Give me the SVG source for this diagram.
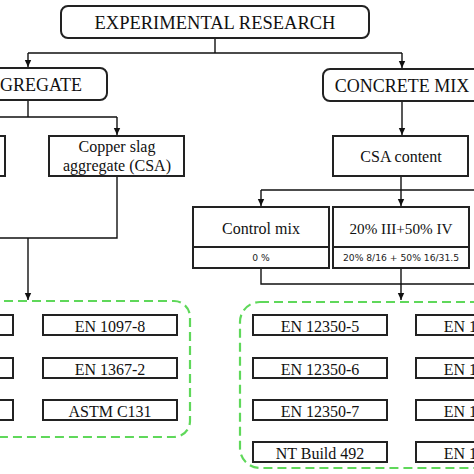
<svg xmlns="http://www.w3.org/2000/svg" width="474" height="474" viewBox="0 0 474 474">
<defs>
<marker id="ah" markerWidth="8" markerHeight="8" refX="7" refY="4" orient="auto" markerUnits="userSpaceOnUse">
<path d="M0,0.8 L7,4 L0,7.2 Z" fill="#111"/>
</marker>
<style>
.box{fill:#fff;stroke:#222;stroke-width:2}
.t{font-family:"Liberation Serif","Times New Roman",serif;fill:#111;text-anchor:middle}
.s{font-family:"DejaVu Sans","Verdana",sans-serif;fill:#222;text-anchor:middle;font-size:9.2px}
.c{fill:none;stroke:#111;stroke-width:1.4}
.grp{fill:none;stroke:#5fd85a;stroke-width:2.2;stroke-dasharray:9,5}
</style>
</defs>
<rect width="474" height="474" fill="#fff"/>

<g id="connectors">
<path class="c" d="M215,38 V53 M28,53 H402"/>
<path class="c" d="M28,53 V67" marker-end="url(#ah)"/>
<path class="c" d="M402,53 V68" marker-end="url(#ah)"/>
<path class="c" d="M28,100 V117 M-10,117 H117"/>
<path class="c" d="M117,117 V135" marker-end="url(#ah)"/>
<path class="c" d="M117,176 V238 H-10"/>
<path class="c" d="M28,238 V300" marker-end="url(#ah)"/>
<path class="c" d="M402,101 V135" stroke="#666" marker-end="url(#ah)"/>
<path class="c" d="M401,176 V190" stroke-width="2.4"/>
<path class="c" d="M261,190 H480"/>
<path class="c" d="M261,190 V206" marker-end="url(#ah)"/>
<path class="c" d="M401,190 V206" stroke-width="2" marker-end="url(#ah)"/>
<path class="c" d="M261,268 V284 H480"/>
<path class="c" d="M401,268 V300" marker-end="url(#ah)"/>
</g>

<g id="n-experimental">
<rect class="box" x="61" y="6" width="308" height="32" rx="7"/>
<text class="t" x="215" y="29" font-size="18.5">EXPERIMENTAL RESEARCH</text>
</g>
<g id="n-aggregate">
<rect class="box" x="-51" y="68" width="158" height="32" rx="7"/>
<text class="t" x="28" y="91" font-size="18">AGGREGATE</text>
</g>
<g id="n-concrete">
<rect class="box" x="323" y="69" width="158" height="32" rx="7"/>
<text class="t" x="402" y="92" font-size="18">CONCRETE MIX</text>
</g>
<g id="n-natural">
<rect class="box" x="-128" y="136" width="133" height="40"/>
</g>
<g id="n-csa">
<rect class="box" x="49" y="136" width="135" height="40"/>
<text class="t" x="117" y="152" font-size="16">Copper slag</text>
<text class="t" x="117" y="171" font-size="16">aggregate (CSA)</text>
</g>
<g id="n-csacontent">
<rect class="box" x="333" y="136" width="135" height="40"/>
<text class="t" x="401" y="162" font-size="16">CSA content</text>
</g>
<g id="n-control">
<rect class="box" x="193" y="207" width="136" height="61"/>
<line x1="193" y1="247" x2="329" y2="247" stroke="#222" stroke-width="2"/>
<text class="t" x="261" y="234" font-size="16">Control mix</text>
<text class="s" x="261" y="261">0 %</text>
</g>
<g id="n-mix2">
<rect class="box" x="333" y="207" width="136" height="61"/>
<line x1="333" y1="247" x2="469" y2="247" stroke="#222" stroke-width="2"/>
<text class="t" x="401" y="234" font-size="15.2">20% III+50% IV</text>
<text class="s" x="401" y="261">20% 8/16 + 50% 16/31.5</text>
</g>

<g id="g-aggregate-tests">
<rect class="grp" x="-180" y="301" width="370" height="136" rx="16"/>
<rect class="box" x="-121" y="315" width="134" height="20"/>
<rect class="box" x="-121" y="358" width="134" height="20"/>
<rect class="box" x="-121" y="400" width="134" height="20"/>
<g id="n-en1097"><rect class="box" x="43" y="315" width="134" height="20"/><text class="t" x="110" y="332" font-size="16">EN 1097-8</text></g>
<g id="n-en1367"><rect class="box" x="43" y="358" width="134" height="20"/><text class="t" x="110" y="375" font-size="16">EN 1367-2</text></g>
<g id="n-astm"><rect class="box" x="43" y="400" width="134" height="20"/><text class="t" x="110" y="417" font-size="16">ASTM C131</text></g>
</g>

<g id="g-concrete-tests">
<rect class="grp" x="240" y="302" width="400" height="166" rx="20"/>
<g id="n-en12350-5"><rect class="box" x="253" y="315" width="134" height="20"/><text class="t" x="320" y="332" font-size="16">EN 12350-5</text></g>
<g id="n-en12350-6"><rect class="box" x="253" y="358" width="134" height="20"/><text class="t" x="320" y="375" font-size="16">EN 12350-6</text></g>
<g id="n-en12350-7"><rect class="box" x="253" y="400" width="134" height="20"/><text class="t" x="320" y="417" font-size="16">EN 12350-7</text></g>
<g id="n-nt492"><rect class="box" x="253" y="442" width="134" height="20"/><text class="t" x="320" y="459" font-size="16">NT Build 492</text></g>
<g id="n-r1"><rect class="box" x="416" y="315" width="134" height="20"/><text class="t" x="483" y="332" font-size="16">EN 12390-3</text></g>
<g id="n-r2"><rect class="box" x="416" y="358" width="134" height="20"/><text class="t" x="483" y="375" font-size="16">EN 12390-6</text></g>
<g id="n-r3"><rect class="box" x="416" y="400" width="134" height="20"/><text class="t" x="483" y="417" font-size="16">EN 12390-8</text></g>
<g id="n-r4"><rect class="box" x="416" y="442" width="134" height="20"/><text class="t" x="483" y="459" font-size="16">EN 12390-7</text></g>
</g>
</svg>
